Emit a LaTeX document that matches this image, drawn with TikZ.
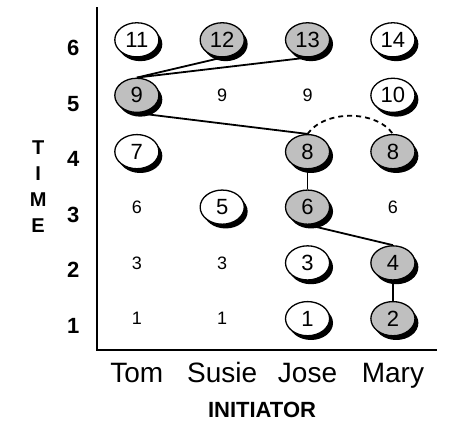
\documentclass[tikz,border=0pt]{standalone}
\usepackage{fontspec}
\setmainfont{Liberation Sans}
\usetikzlibrary{shapes.geometric,shadows}

\tikzset{
  evt/.style={ellipse,draw,line width=1.3pt,inner sep=0pt,minimum width=1.55cm,minimum height=1.2cm,
    font=\fontsize{22}{24}\selectfont,
    drop shadow={opacity=1,fill=black,shadow xshift=0.12cm,shadow yshift=-0.15cm}},
  live/.style={evt,fill=gray!50},
  idle/.style={evt,fill=white},
  clock/.style={font=\fontsize{18}{20}\selectfont},
  tick/.style={font=\bfseries\fontsize{22}{24}\selectfont},
  who/.style={anchor=base,font=\fontsize{28}{30}\selectfont},
  link/.style={line width=1.8pt},
}

\begin{document}
\begin{tikzpicture}
  \useasboundingbox (-3.41,-3.13) rectangle (13.25,12.30);
  % axes
  \draw[line width=2.8pt] (0,12.05) -- (0,0) -- (11.95,0);
  \node[tick] (y1) at (-0.84,0.86) {1};
  \node[tick] (y2) at (-0.84,2.81) {2};
  \node[tick] (y3) at (-0.84,4.76) {3};
  \node[tick] (y4) at (-0.84,6.71) {4};
  \node[tick] (y5) at (-0.84,8.66) {5};
  \node[tick] (y6) at (-0.84,10.61) {6};
  \node[font=\bfseries\fontsize{20}{26}\selectfont,align=center] (time) at (-2.07,5.75) {T\\I\\M\\E};
  \node[who] (tom) at (1.4,-1.16) {Tom};
  \node[who] (susie) at (4.4,-1.16) {Susie};
  \node[who] (jose) at (7.4,-1.16) {Jose};
  \node[who] (mary) at (10.4,-1.16) {Mary};
  \node[font=\bfseries\fontsize{22}{24}\selectfont] (init) at (5.8,-2.11) {INITIATOR};

  % row 6
  \node[idle] (t11) at (1.4,10.9) {11};
  \node[live] (s12) at (4.4,10.9) {12};
  \node[live] (j13) at (7.4,10.9) {13};
  \node[idle] (m14) at (10.4,10.9) {14};
  % row 5
  \node[live] (t9) at (1.4,8.95) {9};
  \node[clock] (s9) at (4.4,8.95) {9};
  \node[clock] (j9) at (7.4,8.95) {9};
  \node[idle] (m10) at (10.4,8.95) {10};
  % row 4
  \node[idle] (t7) at (1.4,6.97) {7};
  \node[live] (j8) at (7.4,6.97) {8};
  \node[live] (m8) at (10.4,6.97) {8};
  % row 3
  \node[clock] (t6) at (1.4,5.02) {6};
  \node[idle] (s5) at (4.4,5.02) {5};
  \node[live] (j6) at (7.4,5.02) {6};
  \node[clock] (m6) at (10.4,5.02) {6};
  % row 2
  \node[clock] (t3) at (1.4,3.06) {3};
  \node[clock] (s3) at (4.4,3.06) {3};
  \node[idle] (j3) at (7.4,3.06) {3};
  \node[live] (m4) at (10.4,3.06) {4};
  % row 1
  \node[clock] (t1) at (1.4,1.1) {1};
  \node[clock] (s1) at (4.4,1.1) {1};
  \node[idle] (j1) at (7.4,1.1) {1};
  \node[live] (m2) at (10.4,1.1) {2};

  % messages
  \draw[link] (m2.north) -- (m4.south);
  \draw[link] (m4.north) -- (j6.south);
  \draw[link] (j6.north) -- (j8.south);
  \draw[link] (j8.north) -- (t9.south);
  \draw[link] (t9.north) -- (s12.south);
  \draw[link] (t9.north) -- (j13.south);
  \draw[link,dash pattern=on 5pt off 4pt] (j8.north) .. controls +(0.6,0.85) and +(-0.6,0.85) .. (m8.north);
\end{tikzpicture}
\end{document}
